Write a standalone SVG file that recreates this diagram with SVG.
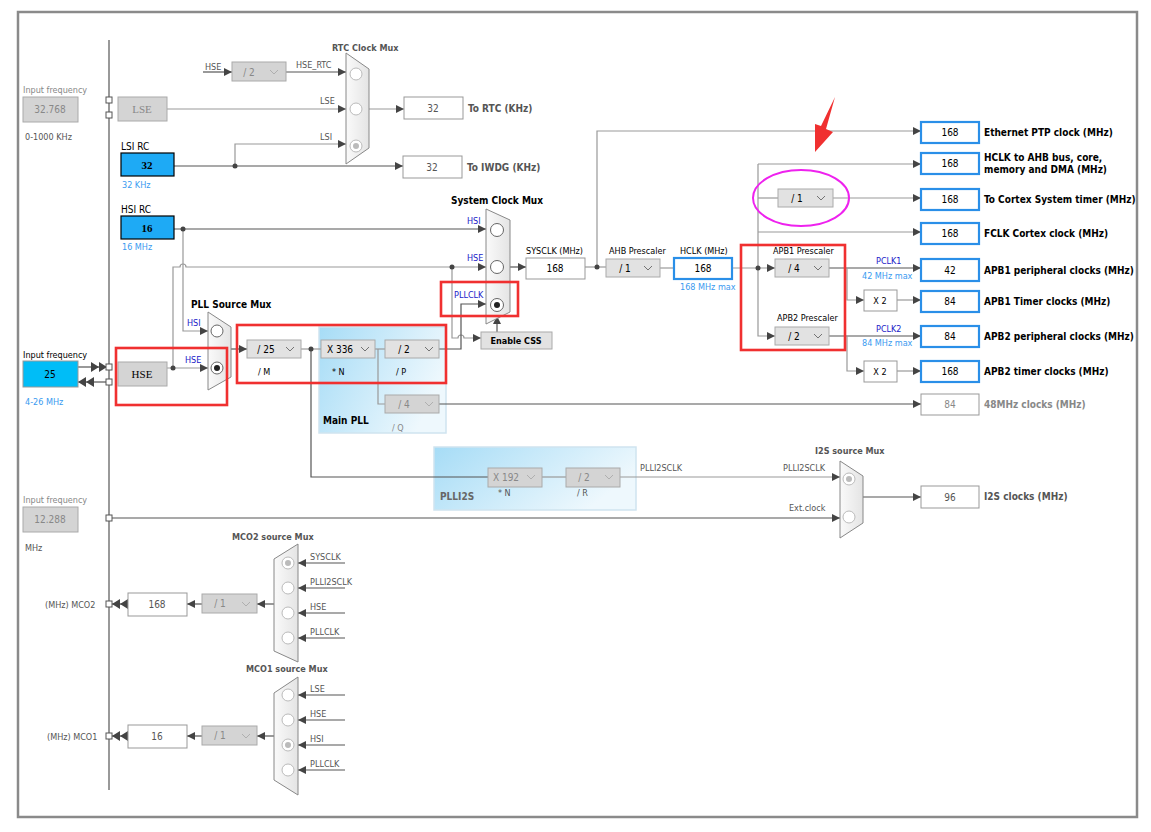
<svg xmlns="http://www.w3.org/2000/svg" width="1151" height="832" viewBox="0 0 1151 832">
<style>
.t{font-family:"DejaVu Sans Condensed","DejaVu Sans","Liberation Sans",sans-serif;font-size:9px;fill:#555}
.b{font-weight:bold}
.k{fill:#000}
.g{fill:#888}
.bl{fill:#1a1ac8}
.lb{fill:#3a9af0}
.m{text-anchor:middle}
.sf{font-family:"Liberation Serif","DejaVu Serif",serif;font-size:11px}
.ln{fill:none;stroke:#555;stroke-width:1.2}
.lg{fill:none;stroke:#999;stroke-width:1.2}
.box{fill:#fff;stroke:#999;stroke-width:1}
.bbox{fill:#fff;stroke:#2a8fe8;stroke-width:2.2}
.pre{fill:#e2e2e2;stroke:#aaa;stroke-width:1}
.dis{fill:#d4d4d4;stroke:#aaa;stroke-width:1}
.chev{fill:none;stroke:#666;stroke-width:0.9}
.chevd{fill:none;stroke:#aaa;stroke-width:0.9}
.mux{fill:url(#mg);stroke:#888;stroke-width:1}
.rad{fill:#fff;stroke:#666;stroke-width:1}
.radd{fill:#fff;stroke:#bbb;stroke-width:1}
.red{fill:none;stroke:#f03030;stroke-width:2.6}
.sq{fill:#fff;stroke:#555;stroke-width:1}
.dot{fill:#444}
.blue{fill:#1eaaf5;stroke:#000;stroke-width:1.2}
</style>
<defs>
<marker id="ah" viewBox="0 0 10 10" refX="10" refY="5" markerWidth="10" markerHeight="8" markerUnits="userSpaceOnUse" orient="auto"><path d="M0,0 L10,5 L0,10 z" fill="#444"/></marker>
<linearGradient id="mg" x1="0" y1="0" x2="1" y2="0"><stop offset="0" stop-color="#fafafa"/><stop offset="1" stop-color="#e4e4e4"/></linearGradient>
<linearGradient id="pg" x1="0" y1="0" x2="1" y2="0.4"><stop offset="0" stop-color="#a6dcf6"/><stop offset="1" stop-color="#eef8fd"/></linearGradient>
</defs>

<rect x="18" y="12" width="1119" height="805" fill="#fff" stroke="#8a8a8a" stroke-width="2.5"/>

<!-- PLL backgrounds -->
<g id="mainpll">
<rect x="319" y="327" width="127" height="106" fill="url(#pg)" stroke="#cfe4ef" stroke-width="1.5"/>
<text class="t b k" x="323" y="424" style="font-size:10px">Main PLL</text>
</g>
<g id="plli2s">
<rect x="434" y="447" width="202" height="63" fill="url(#pg)" stroke="#cfe4ef" stroke-width="1.5"/>
<text class="t b" x="440" y="500" style="font-size:10px;fill:#666">PLLI2S</text>
</g>

<!-- connectors -->
<g id="connectors">
<line x1="109" y1="40" x2="109" y2="790" stroke="#555" stroke-width="1.2"/>
<path class="ln" d="M203,72 H232" marker-end="url(#ah)"/>
<path class="ln" d="M286,72 H346" marker-end="url(#ah)"/>
<path class="lg" d="M167,109 H346" marker-end="url(#ah)"/>
<path class="ln" d="M174,166 H403" marker-end="url(#ah)"/>
<path class="lg" d="M235,166 V144 H346" marker-end="url(#ah)"/>
<path class="lg" d="M369,109 H404" marker-end="url(#ah)"/>
<path class="ln" d="M174,229 H486" marker-end="url(#ah)"/>
<path class="lg" d="M183,229 V331 H208" marker-end="url(#ah)"/>
<path class="lg" d="M173,368 V267 H180 A3,3 0 0 1 186,267 H486" marker-end="url(#ah)"/>
<path class="lg" d="M167,368 H208" marker-end="url(#ah)"/>
<path class="lg" d="M452,267 V338 H458 A3,3 0 0 1 464,338 H481" marker-end="url(#ah)"/>
<path class="ln" d="M439,349 H461 V304 H486" marker-end="url(#ah)"/>
<path class="ln" d="M497,332 V316" marker-end="url(#ah)"/>
<path class="ln" d="M510,267 H526" marker-end="url(#ah)"/>
<path class="lg" d="M585,267 H606"/>
<path class="lg" d="M597,267 V131 H921" marker-end="url(#ah)"/>
<path class="lg" d="M660,268 H674"/>
<path class="lg" d="M732,268 H775" marker-end="url(#ah)"/>
<path class="lg" d="M758,164 V336 H775" marker-end="url(#ah)"/>
<path class="lg" d="M758,164 H921" marker-end="url(#ah)"/>
<path class="lg" d="M758,198 H778"/>
<path class="lg" d="M833,198 H921" marker-end="url(#ah)"/>
<path class="lg" d="M758,232 H921" marker-end="url(#ah)"/>
<path class="ln" d="M829,268 H921" marker-end="url(#ah)"/>
<path class="lg" d="M847,268 V300 H864" marker-end="url(#ah)"/>
<path class="lg" d="M897,300 H921" marker-end="url(#ah)"/>
<path class="ln" d="M829,336 H921" marker-end="url(#ah)"/>
<path class="lg" d="M847,336 V371 H864" marker-end="url(#ah)"/>
<path class="lg" d="M897,371 H921" marker-end="url(#ah)"/>
<path class="ln" d="M231,349 H247" marker-end="url(#ah)"/>
<path class="lg" d="M301,349 H321"/>
<path class="ln" d="M311,349 V477 H488"/>
<path class="lg" d="M375,349 H385"/>
<path class="lg" d="M378,349 V404 H385"/>
<path class="ln" d="M439,404 H921" marker-end="url(#ah)"/>
<path class="lg" d="M542,477 H566"/>
<path class="lg" d="M620,477 H840" marker-end="url(#ah)"/>
<path class="ln" d="M109,518 H840" marker-end="url(#ah)"/>
<path class="ln" d="M863,497 H921" marker-end="url(#ah)"/>
<!-- HSE input double arrows -->
<path class="ln" d="M78,367 H106"/>
<path d="M91,362 L99,367 L91,372 z M99,362 L107,367 L99,372 z" fill="#444"/>
<path class="ln" d="M106,382 H78"/>
<path d="M94,377 L86,382 L94,387 z M86,377 L78,382 L86,387 z" fill="#444"/>
<!-- MCO2 -->
<path class="ln" d="M274,604 H257" marker-end="url(#ah)"/>
<path class="ln" d="M202,604 H187" marker-end="url(#ah)"/>
<path class="ln" d="M128,604 H112"/>
<path d="M128,599 L120,604 L128,609 z M120,599 L112,604 L120,609 z" fill="#444"/>
<path class="ln" d="M345,563 H298" marker-end="url(#ah)"/>
<path class="ln" d="M345,588 H298" marker-end="url(#ah)"/>
<path class="ln" d="M345,613 H298" marker-end="url(#ah)"/>
<path class="ln" d="M345,638 H298" marker-end="url(#ah)"/>
<!-- MCO1 -->
<path class="ln" d="M274,736 H257" marker-end="url(#ah)"/>
<path class="ln" d="M202,736 H187" marker-end="url(#ah)"/>
<path class="ln" d="M128,736 H112"/>
<path d="M128,731 L120,736 L128,741 z M120,731 L112,736 L120,741 z" fill="#444"/>
<path class="ln" d="M345,695 H298" marker-end="url(#ah)"/>
<path class="ln" d="M345,720 H298" marker-end="url(#ah)"/>
<path class="ln" d="M345,745 H298" marker-end="url(#ah)"/>
<path class="ln" d="M345,770 H298" marker-end="url(#ah)"/>
<!-- dots -->
<circle class="dot" cx="235" cy="166" r="2.5"/>
<circle class="dot" cx="183" cy="229" r="2.5"/>
<circle class="dot" cx="173" cy="368" r="2.5"/>
<circle class="dot" cx="452" cy="267" r="2.5"/>
<circle class="dot" cx="597" cy="267" r="2.5"/>
<circle class="dot" cx="758" cy="268" r="2.5"/>
<circle class="dot" cx="311" cy="349" r="2.5"/>
<!-- squares on bus -->
<rect class="sq" x="106" y="97" width="6" height="6"/>
<rect class="sq" x="106" y="112" width="6" height="6"/>
<rect class="sq" x="106" y="364" width="6" height="6"/>
<rect class="sq" x="106" y="379" width="6" height="6"/>
<rect class="sq" x="106" y="515" width="6" height="6"/>
<rect class="sq" x="106" y="601" width="6" height="6"/>
<rect class="sq" x="106" y="733" width="6" height="6"/>
<!-- connector labels -->
<text class="t" x="205" y="70">HSE</text>
<text class="t" x="296" y="68">HSE_RTC</text>
<text class="t" x="320" y="104">LSE</text>
<text class="t" x="320" y="140">LSI</text>
<text class="t bl" x="467" y="224">HSI</text>
<text class="t bl" x="467" y="261">HSE</text>
<text class="t bl" x="454" y="298">PLLCLK</text>
<text class="t bl" x="187" y="326">HSI</text>
<text class="t bl" x="185" y="363">HSE</text>
<text class="t bl" x="876" y="264">PCLK1</text>
<text class="t lb" x="862" y="279">42 MHz max</text>
<text class="t bl" x="876" y="332">PCLK2</text>
<text class="t lb" x="862" y="346">84 MHz max</text>
<text class="t" x="640" y="471">PLLI2SCLK</text>
<text class="t" x="783" y="471">PLLI2SCLK</text>
<text class="t" x="789" y="511">Ext.clock</text>
<text class="t" x="310" y="560">SYSCLK</text>
<text class="t" x="310" y="585">PLLI2SCLK</text>
<text class="t" x="310" y="610">HSE</text>
<text class="t" x="310" y="635">PLLCLK</text>
<text class="t" x="310" y="692">LSE</text>
<text class="t" x="310" y="717">HSE</text>
<text class="t" x="310" y="742">HSI</text>
<text class="t" x="310" y="767">PLLCLK</text>
</g>

<!-- left inputs -->
<g id="lse-input">
<text class="t g" x="23" y="93">Input frequency</text>
<rect class="dis" x="23" y="97" width="55" height="25"/>
<text class="t g m" x="50" y="113" style="font-size:10px">32.768</text>
<text class="t" x="25" y="140">0-1000 KHz</text>
</g>
<g id="lse">
<rect class="dis" x="118" y="97" width="49" height="24"/>
<text class="sf m" x="142" y="113" fill="#888">LSE</text>
</g>
<g id="lsi">
<text class="t k" x="121" y="150" style="font-size:10px">LSI RC</text>
<rect class="blue" x="121" y="153" width="53" height="23"/>
<text class="sf m b" x="147" y="169" fill="#000">32</text>
<text class="t lb" x="122" y="188">32 KHz</text>
</g>
<g id="hsi">
<text class="t k" x="121" y="213" style="font-size:10px">HSI RC</text>
<rect class="blue" x="121" y="216" width="53" height="23"/>
<text class="sf m b" x="147" y="232" fill="#000">16</text>
<text class="t lb" x="122" y="250">16 MHz</text>
</g>
<g id="hse-input">
<text class="t k" x="23" y="358">Input frequency</text>
<rect x="23" y="361" width="55" height="26" fill="#00bdf7" stroke="#999"/>
<text class="t k m" x="50" y="378" style="font-size:10px">25</text>
<text class="t lb" x="25" y="405">4-26 MHz</text>
</g>
<g id="hse">
<rect class="dis" x="118" y="362" width="49" height="24"/>
<text class="sf m" x="142" y="378" fill="#000">HSE</text>
</g>
<g id="i2s-input">
<text class="t g" x="23" y="503">Input frequency</text>
<rect class="dis" x="23" y="507" width="55" height="25"/>
<text class="t g m" x="50" y="523" style="font-size:10px">12.288</text>
<text class="t" x="25" y="551">MHz</text>
</g>

<!-- RTC -->
<g id="rtc-div">
<rect class="dis" x="232" y="62" width="54" height="19"/>
<text class="t g m" x="249" y="76" style="font-size:10px">/ 2</text>
<path class="chevd" d="M270,70 L274,74 L278,70"/>
</g>
<g id="rtc-mux">
<text class="t b" x="332" y="51">RTC Clock Mux</text>
<polygon class="mux" points="346,53 369,69 369,148 346,164"/>
<circle class="radd" cx="356" cy="74" r="6"/>
<circle class="radd" cx="356" cy="109" r="6"/>
<circle class="radd" cx="356" cy="146" r="6"/>
<circle cx="356" cy="146" r="3" fill="#bbb"/>
</g>
<g id="to-rtc">
<rect class="box" x="404" y="97" width="59" height="22"/>
<text class="t m" x="433" y="112" style="font-size:10px">32</text>
<text class="t b" x="468" y="112" style="font-size:10px">To RTC (KHz)</text>
</g>
<g id="to-iwdg">
<rect class="box" x="403" y="156" width="59" height="22"/>
<text class="t m" x="432" y="171" style="font-size:10px">32</text>
<text class="t b" x="467" y="171" style="font-size:10px">To IWDG (KHz)</text>
</g>

<!-- PLL source mux -->
<g id="pll-mux">
<text class="t b k" x="191" y="308" style="font-size:10px">PLL Source Mux</text>
<polygon class="mux" points="208,312 231,327 231,377 208,390"/>
<circle class="rad" cx="217" cy="331" r="6"/>
<circle class="rad" cx="217" cy="368" r="6"/>
<circle cx="217" cy="368" r="3" fill="#222"/>
</g>
<g id="pll-m">
<rect class="pre" x="247" y="340" width="54" height="18"/>
<text class="t k m" x="266" y="353" style="font-size:10px">/ 25</text>
<path class="chev" d="M286,347 L290,351 L294,347"/>
<text class="t k" x="258" y="375">/ M</text>
</g>
<g id="pll-n">
<rect class="pre" x="321" y="340" width="54" height="18"/>
<text class="t k m" x="340" y="353" style="font-size:10px">X 336</text>
<path class="chev" d="M361,347 L365,351 L369,347"/>
<text class="t k" x="332" y="375">* N</text>
</g>
<g id="pll-p">
<rect class="pre" x="385" y="340" width="54" height="18"/>
<text class="t k m" x="404" y="353" style="font-size:10px">/ 2</text>
<path class="chev" d="M425,347 L429,351 L433,347"/>
<text class="t k" x="396" y="375">/ P</text>
</g>
<g id="pll-q">
<rect class="dis" x="385" y="395" width="54" height="18"/>
<text class="t g m" x="404" y="408" style="font-size:10px">/ 4</text>
<path class="chevd" d="M425,402 L429,406 L433,402"/>
<text class="t g" x="392" y="431">/ Q</text>
</g>

<!-- system clock mux -->
<g id="sys-mux">
<text class="t b k" x="451" y="204" style="font-size:10px">System Clock Mux</text>
<polygon class="mux" points="486,209 510,220 510,312 486,324"/>
<circle class="rad" cx="497" cy="230" r="6.5"/>
<circle class="rad" cx="497" cy="267" r="6.5"/>
<circle class="rad" cx="497" cy="305" r="6.5"/>
<circle cx="497" cy="305" r="3" fill="#222"/>
</g>
<g id="enable-css">
<rect x="481" y="332" width="71" height="17" fill="#e2e2e2" stroke="#aaa"/>
<text class="t b k m" x="516" y="344">Enable CSS</text>
</g>
<g id="sysclk">
<text class="t k" x="526" y="254">SYSCLK (MHz)</text>
<rect class="box" x="526" y="258" width="59" height="21"/>
<text class="t k m" x="555" y="272" style="font-size:10px">168</text>
</g>
<g id="ahb">
<text class="t k" x="609" y="254">AHB Prescaler</text>
<rect class="pre" x="606" y="259" width="54" height="18"/>
<text class="t k m" x="625" y="272" style="font-size:10px">/ 1</text>
<path class="chev" d="M644,266 L648,270 L652,266"/>
</g>
<g id="hclk">
<text class="t k" x="680" y="254">HCLK (MHz)</text>
<rect class="bbox" x="674" y="258" width="58" height="21"/>
<text class="t k m" x="703" y="272" style="font-size:10px">168</text>
<text class="t lb" x="680" y="290">168 MHz max</text>
</g>
<g id="cortex-div">
<rect class="pre" x="778" y="189" width="55" height="18"/>
<text class="t k m" x="797" y="202" style="font-size:10px">/ 1</text>
<path class="chev" d="M817,196 L821,200 L825,196"/>
</g>
<g id="apb1">
<text class="t k" x="773" y="254">APB1 Prescaler</text>
<rect class="pre" x="775" y="259" width="54" height="18"/>
<text class="t k m" x="794" y="272" style="font-size:10px">/ 4</text>
<path class="chev" d="M814,266 L818,270 L822,266"/>
</g>
<g id="apb2">
<text class="t k" x="777" y="321">APB2 Prescaler</text>
<rect class="pre" x="775" y="327" width="54" height="18"/>
<text class="t k m" x="794" y="340" style="font-size:10px">/ 2</text>
<path class="chev" d="M814,334 L818,338 L822,334"/>
</g>
<g id="x2-apb1">
<rect class="box" x="864" y="290" width="33" height="21"/>
<text class="t k m" x="880" y="304">X 2</text>
</g>
<g id="x2-apb2">
<rect class="box" x="864" y="361" width="33" height="21"/>
<text class="t k m" x="880" y="375">X 2</text>
</g>

<!-- outputs -->
<g id="out-eth"><rect class="bbox" x="921" y="122" width="58" height="21"/><text class="t k m" x="950" y="136" style="font-size:10px">168</text><text class="t b k" x="984" y="136" style="font-size:10px">Ethernet PTP clock (MHz)</text></g>
<g id="out-hclk"><rect class="bbox" x="921" y="153" width="58" height="21"/><text class="t k m" x="950" y="167" style="font-size:10px">168</text><text class="t b k" x="984" y="161" style="font-size:10px">HCLK to AHB bus, core,</text><text class="t b k" x="984" y="173" style="font-size:10px">memory and DMA (MHz)</text></g>
<g id="out-systick"><rect class="bbox" x="921" y="189" width="58" height="21"/><text class="t k m" x="950" y="203" style="font-size:10px">168</text><text class="t b k" x="984" y="203" style="font-size:10px">To Cortex System timer (MHz)</text></g>
<g id="out-fclk"><rect class="bbox" x="921" y="223" width="58" height="21"/><text class="t k m" x="950" y="237" style="font-size:10px">168</text><text class="t b k" x="984" y="237" style="font-size:10px">FCLK Cortex clock (MHz)</text></g>
<g id="out-apb1p"><rect class="bbox" x="921" y="259" width="58" height="22"/><text class="t k m" x="950" y="274" style="font-size:10px">42</text><text class="t b k" x="984" y="274" style="font-size:10px">APB1 peripheral clocks (MHz)</text></g>
<g id="out-apb1t"><rect class="bbox" x="921" y="291" width="58" height="21"/><text class="t k m" x="950" y="305" style="font-size:10px">84</text><text class="t b k" x="984" y="305" style="font-size:10px">APB1 Timer clocks (MHz)</text></g>
<g id="out-apb2p"><rect class="bbox" x="921" y="326" width="58" height="21"/><text class="t k m" x="950" y="340" style="font-size:10px">84</text><text class="t b k" x="984" y="340" style="font-size:10px">APB2 peripheral clocks (MHz)</text></g>
<g id="out-apb2t"><rect class="bbox" x="921" y="361" width="58" height="21"/><text class="t k m" x="950" y="375" style="font-size:10px">168</text><text class="t b k" x="984" y="375" style="font-size:10px">APB2 timer clocks (MHz)</text></g>
<g id="out-48"><rect class="box" x="921" y="394" width="58" height="21"/><text class="t g m" x="950" y="408" style="font-size:10px">84</text><text class="t b g" x="984" y="408" style="font-size:10px">48MHz clocks (MHz)</text></g>
<g id="out-i2s"><rect class="box" x="921" y="486" width="58" height="22"/><text class="t m" x="950" y="501" style="font-size:10px">96</text><text class="t b" x="984" y="500" style="font-size:10px">I2S clocks (MHz)</text></g>

<!-- PLLI2S -->
<g id="plli2s-n">
<rect class="dis" x="488" y="468" width="54" height="19"/>
<text class="t g m" x="506" y="481" style="font-size:10px">X 192</text>
<path class="chevd" d="M527,475 L531,479 L535,475"/>
<text class="t" x="498" y="496">* N</text>
</g>
<g id="plli2s-r">
<rect class="dis" x="566" y="468" width="54" height="19"/>
<text class="t g m" x="584" y="481" style="font-size:10px">/ 2</text>
<path class="chevd" d="M605,475 L609,479 L613,475"/>
<text class="t" x="577" y="496">/ R</text>
</g>
<g id="i2s-mux">
<text class="t b" x="815" y="454">I2S source Mux</text>
<polygon class="mux" points="840,461 863,476 863,523 840,538"/>
<circle class="radd" cx="849" cy="479" r="6"/>
<circle cx="849" cy="479" r="3" fill="#bbb"/>
<circle class="radd" cx="849" cy="517" r="6"/>
</g>

<!-- MCO2 -->
<g id="mco2-mux">
<text class="t b" x="232" y="540">MCO2 source Mux</text>
<polygon class="mux" points="274,559 298,544 298,662 274,651"/>
<circle class="radd" cx="288" cy="563" r="6"/>
<circle cx="288" cy="563" r="3" fill="#bbb"/>
<circle class="radd" cx="288" cy="588" r="6"/>
<circle class="radd" cx="288" cy="613" r="6"/>
<circle class="radd" cx="288" cy="638" r="6"/>
</g>
<g id="mco2-div">
<rect class="dis" x="202" y="594" width="55" height="19"/>
<text class="t g m" x="220" y="607" style="font-size:10px">/ 1</text>
<path class="chevd" d="M242,602 L246,606 L250,602"/>
</g>
<g id="mco2-out">
<rect class="box" x="128" y="593" width="59" height="23"/>
<text class="t m" x="157" y="608" style="font-size:10px">168</text>
<text class="t" x="45" y="608">(MHz) MCO2</text>
</g>
<!-- MCO1 -->
<g id="mco1-mux">
<text class="t b" x="246" y="672">MCO1 source Mux</text>
<polygon class="mux" points="274,693 298,677 298,795 274,780"/>
<circle class="radd" cx="288" cy="695" r="6"/>
<circle class="radd" cx="288" cy="720" r="6"/>
<circle class="radd" cx="288" cy="745" r="6"/>
<circle cx="288" cy="745" r="3" fill="#bbb"/>
<circle class="radd" cx="288" cy="770" r="6"/>
</g>
<g id="mco1-div">
<rect class="dis" x="202" y="726" width="55" height="19"/>
<text class="t g m" x="220" y="739" style="font-size:10px">/ 1</text>
<path class="chevd" d="M242,734 L246,738 L250,734"/>
</g>
<g id="mco1-out">
<rect class="box" x="128" y="725" width="59" height="23"/>
<text class="t m" x="157" y="740" style="font-size:10px">16</text>
<text class="t" x="47" y="740">(MHz) MCO1</text>
</g>

<!-- annotations -->
<g id="annotations">
<rect class="red" x="116" y="348" width="111" height="57"/>
<rect class="red" x="237" y="325" width="209" height="58"/>
<rect class="red" x="441" y="282" width="77" height="34"/>
<rect class="red" x="741" y="245" width="104" height="105"/>
<ellipse cx="801" cy="198" rx="48" ry="28" fill="none" stroke="#ee22ee" stroke-width="2"/>
<polygon points="835,97 826,129 833,132 815,152 815,124 821,126" fill="#f03030"/>
</g>
</svg>
